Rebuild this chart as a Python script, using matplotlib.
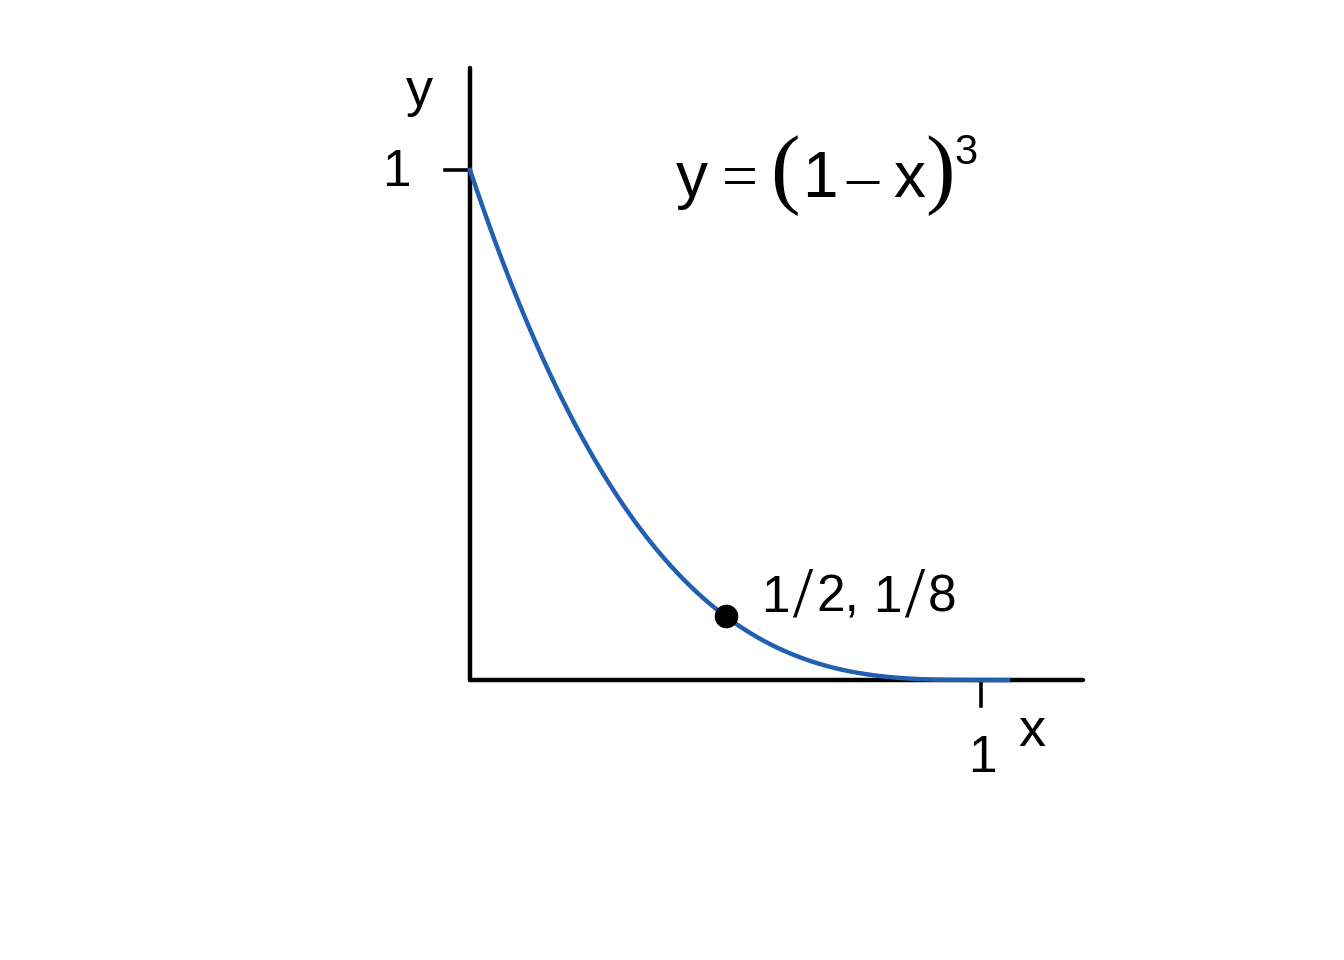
import numpy as np
import matplotlib
matplotlib.use('Agg')
import matplotlib.pyplot as plt

# curve y = (1 - x)^3, drawn a bit past x = 1
x_start, x_end = 0.0, 1.053
point = (0.5, 0.125)
axis_max = 1.2
tick_labels = ['1', '1']

W, H = 1344, 960
x0p, y0p, unit_x, unit_y = 470, 680, 511, 510


def px(p):
    return (p - x0p) / unit_x


def py(p):
    return (y0p - p) / unit_y


fig = plt.figure(figsize=(13.44, 9.6), dpi=100)
ax = fig.add_axes([0, 0, 1, 1])
ax.set_xlim(px(0), px(W))
ax.set_ylim(py(H), py(0))
ax.axis('off')

sans = 'Liberation Sans'
serif = 'Liberation Serif'

# axes
ax.plot([0, axis_max], [0, 0], color='black', lw=3.2, solid_capstyle='round')
ax.plot([0, 0], [0, axis_max], color='black', lw=3.2, solid_capstyle='round')
ax.plot([px(445), 0], [1, 1], color='black', lw=2.6)
ax.plot([1, 1], [0, py(706)], color='black', lw=2.6)

xs = np.linspace(x_start, x_end, 400)
ys = (1 - xs) ** 3
ax.plot(xs, ys, color='#2160b0', lw=3.2, zorder=3)
ax.plot(point[0], point[1], 'o', color='black', ms=16, zorder=4)

# labels
ax.text(px(396), py(173), tick_labels[0], fontsize=37, family=sans, ha='center', va='center')
ax.text(px(982), py(759), tick_labels[1], fontsize=37, family=sans, ha='center', va='center')
ax.text(px(419), py(92), 'y', fontsize=39, family=sans, ha='center', va='center')
ax.text(px(1032), py(732), 'x', fontsize=39, family=sans, ha='center', va='center')

# equation
base = py(197)
ax.text(px(676), base, 'y', fontsize=46, family=sans, ha='left', va='baseline')
ax.text(px(722), base, '=', fontsize=46, family=serif, ha='left', va='baseline')
ax.text(px(770), py(176), '(', fontsize=64, family=serif, ha='left', va='center')
ax.text(px(802), base, '1', fontsize=46, family=sans, ha='left', va='baseline')
ax.text(px(846), base, '\u2013', fontsize=46, family=serif, ha='left', va='baseline')
ax.text(px(893), base, 'x', fontsize=46, family=sans, ha='left', va='baseline')
ax.text(px(925), py(176), ')', fontsize=64, family=serif, ha='left', va='center')
ax.text(px(954), py(164), '3', fontsize=30, family=sans, ha='left', va='baseline')

# point label 1/2, 1/8
pb = py(612)
ax.text(px(761), pb, '1', fontsize=37, family=sans, ha='left', va='baseline')
ax.text(px(793), py(598), '/', fontsize=52, family=serif, ha='left', va='center')
ax.text(px(816), pb, '2,', fontsize=37, family=sans, ha='left', va='baseline')
ax.text(px(873), pb, '1', fontsize=37, family=sans, ha='left', va='baseline')
ax.text(px(905), py(598), '/', fontsize=52, family=serif, ha='left', va='center')
ax.text(px(928), pb, '8', fontsize=37, family=sans, ha='left', va='baseline')

fig.savefig('out.png', dpi=100)
